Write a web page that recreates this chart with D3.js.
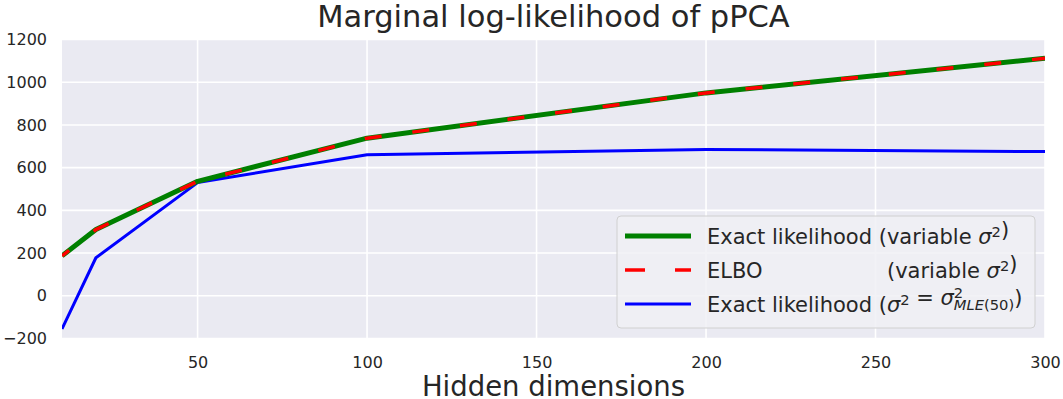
<!DOCTYPE html>
<html>
<head>
<meta charset="utf-8">
<script src="https://cdn.jsdelivr.net/npm/d3@7"></script>
<style>
  body { margin: 0; background: #fff; }
  text { font-family: "DejaVu Sans", sans-serif; fill: #262626; }
</style>
</head>
<body>
<svg id="chart" width="1063" height="399"></svg>
<script>
let dims = [10, 20, 50, 100, 200, 300];
let exactVar = [187, 310, 536, 738, 950, 1112];
let elboVar = [187, 310, 536, 738, 950, 1112];
let exactMle = [-155, 178, 530, 660, 685, 675];
let xTicks = [50, 100, 150, 200, 250, 300];
let yTicks = [-200, 0, 200, 400, 600, 800, 1000, 1200];

let margin = {top: 39.5, bottom: 60.5, left: 62, right: 18};
let svgWidth = 1063;
let svgHeight = 399;
let width = svgWidth - margin.left - margin.right;
let height = svgHeight - margin.top - margin.bottom;

let xScale = d3.scaleLinear().domain([10, 300]).range([0, width]);
let yScale = d3.scaleLinear().domain([-200, 1200]).range([height, 0]);

let svg = d3.select('#chart');
let g = svg.append('g').attr('transform', `translate(${margin.left},${margin.top})`);

// background + grid
g.append('rect').attr('width', width).attr('height', height).attr('fill', '#eaeaf2');
g.append('g').selectAll('line').data(xTicks).enter().append('line')
  .attr('x1', d => xScale(d)).attr('x2', d => xScale(d))
  .attr('y1', 0).attr('y2', height)
  .attr('stroke', '#fff').attr('stroke-width', 1.6);
g.append('g').selectAll('line').data(yTicks).enter().append('line')
  .attr('y1', d => yScale(d)).attr('y2', d => yScale(d))
  .attr('x1', 0).attr('x2', width)
  .attr('stroke', '#fff').attr('stroke-width', 1.6);

// axes (labels only, seaborn style)
let xAxis = g.append('g').attr('transform', `translate(0,${height})`)
  .call(d3.axisBottom(xScale).tickValues(xTicks).tickSize(0).tickPadding(18));
let yAxis = g.append('g')
  .call(d3.axisLeft(yScale).tickValues(yTicks).tickSize(0).tickPadding(15)
    .tickFormat(d => d < 0 ? '\u2212' + Math.abs(d) : d));
[xAxis, yAxis].forEach(a => {
  a.select('.domain').remove();
  a.selectAll('text').attr('font-size', 16).attr('font-family', '"DejaVu Sans", sans-serif').attr('fill', '#262626');
});

// lines
g.append('clipPath').attr('id', 'clip').append('rect').attr('width', width).attr('height', height);
let line = d3.line().x(d => xScale(d[0])).y(d => yScale(d[1]));
let plot = g.append('g').attr('clip-path', 'url(#clip)');
plot.append('path').datum(d3.zip(dims, exactMle)).attr('d', line)
  .attr('fill', 'none').attr('stroke', '#0000ff').attr('stroke-width', 3).attr('stroke-linejoin', 'round');
plot.append('path').datum(d3.zip(dims, exactVar)).attr('d', line)
  .attr('fill', 'none').attr('stroke', '#008000').attr('stroke-width', 5).attr('stroke-linejoin', 'round');
plot.append('path').datum(d3.zip(dims, elboVar)).attr('d', line)
  .attr('fill', 'none').attr('stroke', '#ff0000').attr('stroke-width', 3.5)
  .attr('stroke-dasharray', '17,31').attr('stroke-dashoffset', 8);

// title + x label
svg.append('text').attr('x', margin.left + width / 2).attr('y', 27)
  .attr('text-anchor', 'middle').attr('font-size', 30.5).text('Marginal log-likelihood of pPCA');
svg.append('text').attr('x', margin.left + width / 2).attr('y', 396)
  .attr('text-anchor', 'middle').attr('font-size', 27.5).text('Hidden dimensions');

// legend
let lg = svg.append('g').attr('transform', 'translate(617,216)');
lg.append('rect').attr('width', 418).attr('height', 112).attr('rx', 4)
  .attr('fill', '#f0f0f5').attr('fill-opacity', 0.85).attr('stroke', '#d0d0d0').attr('stroke-width', 1);
let rows = [
  {color: '#008000', w: 5, dash: null, y: 20},
  {color: '#ff0000', w: 3.5, dash: '20,30', y: 54},
  {color: '#0000ff', w: 3, dash: null, y: 88}
];
lg.selectAll('line.key').data(rows).enter().append('line')
  .attr('x1', 8).attr('x2', 74).attr('y1', d => d.y).attr('y2', d => d.y)
  .attr('stroke', d => d.color).attr('stroke-width', d => d.w)
  .attr('stroke-dasharray', d => d.dash);

let fs = 21;
let sm = fs * 0.7;
function sigma2(t) {
  t.append('tspan').attr('font-style', 'italic').text('\u03c3');
  t.append('tspan').attr('font-size', sm).attr('dy', -7).text('2');
  t.append('tspan').attr('dy', 7).text('');
}
let t1 = lg.append('text').attr('x', 90).attr('y', 27.5).attr('font-size', fs);
t1.append('tspan').text('Exact likelihood (variable ');
sigma2(t1);
t1.append('tspan').text(')');

lg.append('text').attr('x', 90).attr('y', 61.5).attr('font-size', fs).text('ELBO');
let t2b = lg.append('text').attr('x', 270).attr('y', 61.5).attr('font-size', fs);
t2b.append('tspan').text('(variable ');
sigma2(t2b);
t2b.append('tspan').text(')');

let t3 = lg.append('text').attr('x', 90).attr('y', 95.5).attr('font-size', fs);
t3.append('tspan').text('Exact likelihood (');
sigma2(t3);
t3.append('tspan').text(' = ');
t3.append('tspan').attr('font-style', 'italic').text('\u03c3');
t3.append('tspan').attr('font-size', sm).attr('dy', -7).text('2');
t3.append('tspan').attr('font-size', sm).attr('dx', -sm * 0.636).attr('dy', 12).attr('font-style', 'italic').text('MLE');
t3.append('tspan').attr('font-size', sm).text('(50)');
t3.append('tspan').attr('dy', -5).text(')');
</script>
</body>
</html>
